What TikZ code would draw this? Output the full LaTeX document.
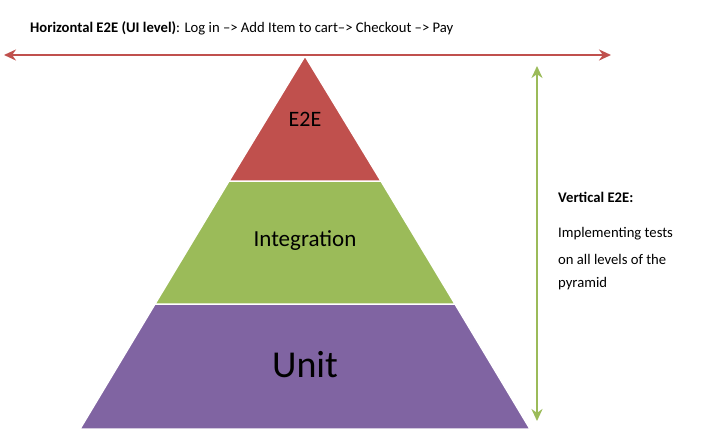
\documentclass[tikz,border=0pt]{standalone}
\usepackage{fontspec}
\setmainfont{Carlito}
\usetikzlibrary{arrows.meta}
\definecolor{cred}{HTML}{C0504D}
\definecolor{cgreen}{HTML}{9BBB59}
\definecolor{cpurple}{HTML}{8064A2}
\tikzset{
  tier/.style={draw=white,line width=1.5pt},
  lbl/.style={anchor=west,inner sep=0pt,font=\fontsize{14.67}{17.6}\selectfont},
  dbl/.style={line width=2.5pt,{Stealth[length=12pt,width=11pt]}-{Stealth[length=12pt,width=11pt]}}
}
\begin{document}
\begin{tikzpicture}[x=1pt,y=-1pt]
\useasboundingbox (0,0) rectangle (727,442);
\fill[white] (0,0) rectangle (727,442);
\filldraw[tier,fill=cpurple] (80,429) -- (155,304) -- (455,304) -- (530,429) -- cycle;
\filldraw[tier,fill=cgreen] (155,304) -- (229,181) -- (381,181) -- (455,304) -- cycle;
\filldraw[tier,fill=cred] (229,181) -- (305,56) -- (381,181) -- cycle;
\node (e2e) at (305,119) {\fontsize{22}{26}\selectfont E2E};
\node (int) at (305,241) {\fontsize{23}{28}\selectfont Integration};
\node (unit) at (305,365) {\fontsize{38}{44}\selectfont Unit};
\coordinate (hl) at (4,55);
\coordinate (hr) at (611,55);
\draw[dbl,cred] (hl) -- (hr);
\coordinate (vt) at (537,66);
\coordinate (vb) at (537,421);
\draw[dbl,cgreen] (vt) -- (vb);
\node[lbl] (htxt) at (30,28) {\textbf{Horizontal E2E (UI level)}: Log in --> Add Item to cart--> Checkout --> Pay};
\node[lbl] (vtit) at (558,197) {\textbf{Vertical E2E:}};
\node[lbl] (v1) at (558,234) {Implementing tests};
\node[lbl] (v2) at (558,259) {on all levels of the};
\node[lbl] (v3) at (558,284) {pyramid};
\end{tikzpicture}
\end{document}
